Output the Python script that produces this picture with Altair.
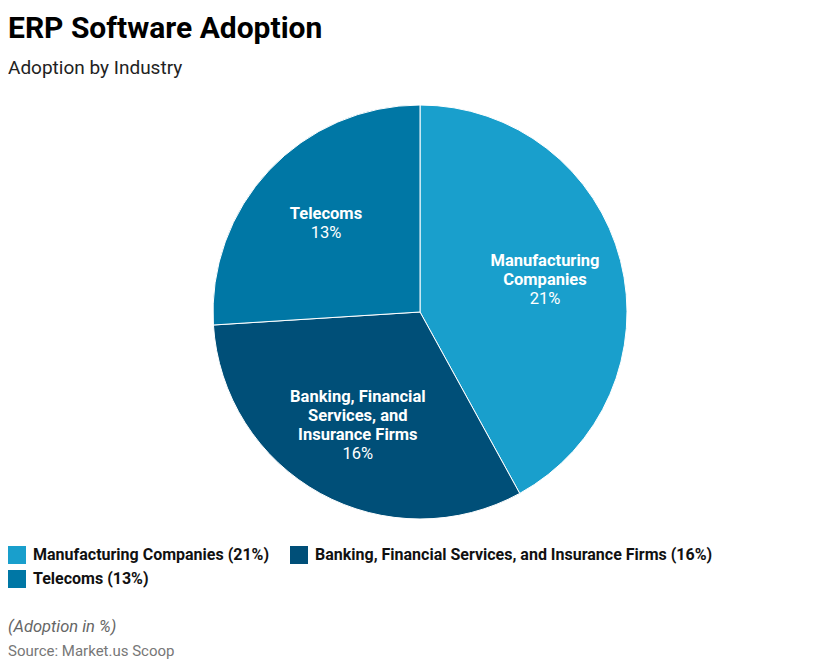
import altair as alt
import pandas as pd

categories = ["Manufacturing Companies", "Banking, Financial Services, and Insurance Firms", "Telecoms"]
values = [21, 16, 13]
slice_names = ["Manufacturing\nCompanies", "Banking, Financial\nServices, and\nInsurance Firms", "Telecoms"]
colors = ["#199fcc", "#004f78", "#0077a5"]
notes = ["(Adoption in %)", "Source: Market.us Scoop"]

LINE_H = 19
LABEL_R = 129

legend_labels = [f"{c} ({v}%)" for c, v in zip(categories, values)]
df = pd.DataFrame({
    "category": categories,
    "value": values,
    "order": list(range(len(categories))),
    "legend": legend_labels,
    "name_text": slice_names,
    "pct_text": [f"{v}%" for v in values],
})

base = alt.Chart(df)

arcs = base.mark_arc(outerRadius=207, stroke="white", strokeWidth=1).encode(
    theta=alt.Theta("value:Q", stack=True),
    order=alt.Order("order:Q"),
    color=alt.Color(
        "legend:N",
        sort=legend_labels,
        scale=alt.Scale(domain=legend_labels, range=colors),
        legend=alt.Legend(
            title=None,
            orient="none",
            legendX=0,
            legendY=446,
            direction="horizontal",
            columns=2,
            columnPadding=20,
            rowPadding=6,
            symbolType="square",
            symbolSize=324,
            symbolStrokeWidth=0,
            symbolOpacity=1,
            labelFont="Roboto",
            labelFontSize=16,
            labelFontWeight="bold",
            labelColor="#111111",
            labelOffset=7,
            labelLimit=600,
        ),
    ),
)

stacked = base.transform_window(
    cum="sum(value)", sort=[alt.SortField("order", order="ascending")],
    frame=[None, 0],
).transform_calculate(mid="datum.cum - datum.value / 2")

label_layers = []
for cat, name in zip(categories, slice_names):
    n = name.count("\n") + 1
    first_dy = -n * LINE_H / 2
    sub = stacked.transform_filter(alt.datum.category == cat).encode(
        theta=alt.Theta("mid:Q", stack=None),
    )
    label_layers.append(
        sub.mark_text(
            radius=LABEL_R, font="Roboto", fontSize=16.5, fontWeight="bold", color="white",
            lineBreak="\n", lineHeight=LINE_H, baseline="middle", align="center", dy=first_dy,
        ).encode(text="name_text:N")
    )
    label_layers.append(
        sub.mark_text(
            radius=LABEL_R, font="Roboto", fontSize=16.5, fontWeight="normal", color="white",
            baseline="middle", align="center", dy=first_dy + n * LINE_H,
        ).encode(text="pct_text:N")
    )

note1 = alt.Chart(pd.DataFrame({"t": [notes[0]]})).mark_text(
    align="left", baseline="alphabetic", font="Roboto", fontSize=16.5,
    fontStyle="italic", color="#666666",
).encode(x=alt.value(0), y=alt.value(532), text="t:N")

note2 = alt.Chart(pd.DataFrame({"t": [notes[1]]})).mark_text(
    align="left", baseline="alphabetic", font="Roboto", fontSize=15,
    color="#777777",
).encode(x=alt.value(0), y=alt.value(556), text="t:N")

chart = alt.layer(arcs, *label_layers, note1, note2).properties(
    width=824,
    height=424,
    title=alt.Title(
        "ERP Software Adoption",
        subtitle="Adoption by Industry",
        anchor="start",
        font="Roboto",
        fontSize=30,
        fontWeight="bold",
        color="#000000",
        subtitleFont="Roboto",
        subtitleFontSize=19,
        subtitleColor="#222222",
        subtitlePadding=15,
        offset=22,
    ),
).configure(
    padding={"top": 6, "left": 0, "right": 0, "bottom": 0}, background="white"
).configure_view(stroke=None)

chart.save("out.html", embed_options={"renderer": "svg", "actions": False})
